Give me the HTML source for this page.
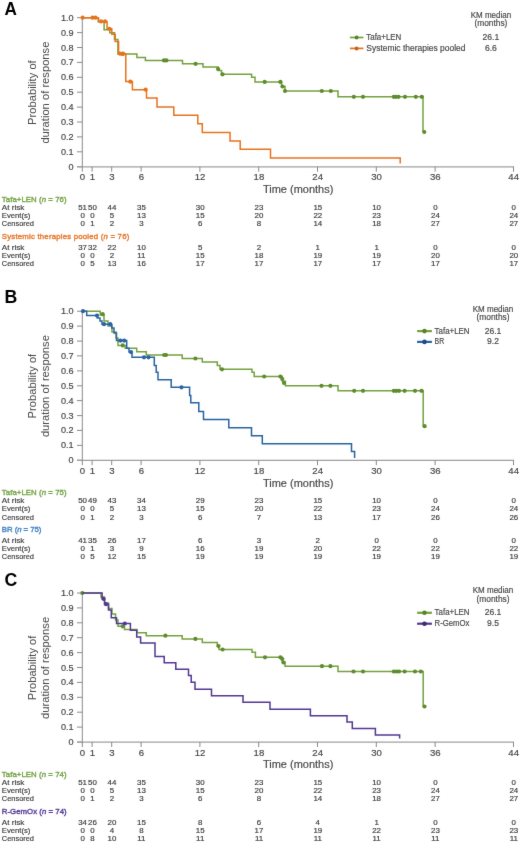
<!DOCTYPE html>
<html><head><meta charset="utf-8"><title>Duration of response</title>
<style>
html,body{margin:0;padding:0;background:#fff;}
body{width:520px;height:844px;overflow:hidden;}
svg{display:block;font-family:'Liberation Sans', Arial, sans-serif;}
</style></head>
<body>
<svg width="520" height="844" viewBox="0 0 520 844">
<defs><filter id="soft" x="0" y="0" width="520" height="844" filterUnits="userSpaceOnUse"><feConvolveMatrix order="3" kernelMatrix="0.0052 0.0619 0.0052 0.0619 0.7314 0.0619 0.0052 0.0619 0.0052" divisor="1" edgeMode="none" preserveAlpha="false"/></filter></defs>
<rect width="520" height="844" fill="#fff"/>
<g filter="url(#soft)">
<text x="4.5" y="14.9" font-size="17.7" font-weight="bold" fill="#000" textLength="12.4" lengthAdjust="spacingAndGlyphs">A</text>
<text transform="translate(35.9 92.6) rotate(-90)" text-anchor="middle" font-size="11.2" fill="#484848">Probability of</text>
<text transform="translate(48.5 92.6) rotate(-90)" text-anchor="middle" font-size="11.2" fill="#484848">duration of response</text>
<text x="73.6" y="20.7" font-size="9.10" text-anchor="end" fill="#484848" stroke="#484848" stroke-width="0.18">1.0</text>
<line x1="77" y1="17.7" x2="82.3" y2="17.7" stroke="#8a8a8a" stroke-width="1"/>
<text x="73.6" y="35.6" font-size="9.10" text-anchor="end" fill="#484848" stroke="#484848" stroke-width="0.18">0.9</text>
<line x1="77" y1="32.6" x2="82.3" y2="32.6" stroke="#8a8a8a" stroke-width="1"/>
<text x="73.6" y="50.5" font-size="9.10" text-anchor="end" fill="#484848" stroke="#484848" stroke-width="0.18">0.8</text>
<line x1="77" y1="47.5" x2="82.3" y2="47.5" stroke="#8a8a8a" stroke-width="1"/>
<text x="73.6" y="65.4" font-size="9.10" text-anchor="end" fill="#484848" stroke="#484848" stroke-width="0.18">0.7</text>
<line x1="77" y1="62.4" x2="82.3" y2="62.4" stroke="#8a8a8a" stroke-width="1"/>
<text x="73.6" y="80.3" font-size="9.10" text-anchor="end" fill="#484848" stroke="#484848" stroke-width="0.18">0.6</text>
<line x1="77" y1="77.3" x2="82.3" y2="77.3" stroke="#8a8a8a" stroke-width="1"/>
<text x="73.6" y="95.2" font-size="9.10" text-anchor="end" fill="#484848" stroke="#484848" stroke-width="0.18">0.5</text>
<line x1="77" y1="92.2" x2="82.3" y2="92.2" stroke="#8a8a8a" stroke-width="1"/>
<text x="73.6" y="110.1" font-size="9.10" text-anchor="end" fill="#484848" stroke="#484848" stroke-width="0.18">0.4</text>
<line x1="77" y1="107.1" x2="82.3" y2="107.1" stroke="#8a8a8a" stroke-width="1"/>
<text x="73.6" y="125.0" font-size="9.10" text-anchor="end" fill="#484848" stroke="#484848" stroke-width="0.18">0.3</text>
<line x1="77" y1="122.0" x2="82.3" y2="122.0" stroke="#8a8a8a" stroke-width="1"/>
<text x="73.6" y="139.9" font-size="9.10" text-anchor="end" fill="#484848" stroke="#484848" stroke-width="0.18">0.2</text>
<line x1="77" y1="136.9" x2="82.3" y2="136.9" stroke="#8a8a8a" stroke-width="1"/>
<text x="73.6" y="154.8" font-size="9.10" text-anchor="end" fill="#484848" stroke="#484848" stroke-width="0.18">0.1</text>
<line x1="77" y1="151.8" x2="82.3" y2="151.8" stroke="#8a8a8a" stroke-width="1"/>
<text x="73.6" y="169.7" font-size="9.10" text-anchor="end" fill="#484848" stroke="#484848" stroke-width="0.18">0</text>
<line x1="77" y1="166.7" x2="82.3" y2="166.7" stroke="#8a8a8a" stroke-width="1"/>
<line x1="82.3" y1="17.7" x2="82.3" y2="166.7" stroke="#8a8a8a" stroke-width="1"/>
<line x1="77" y1="166.9" x2="514" y2="166.9" stroke="#a0a0a0" stroke-width="1.3"/>
<line x1="82.3" y1="166.7" x2="82.3" y2="171.7" stroke="#8a8a8a" stroke-width="1"/>
<text x="82.5" y="180.4" font-size="9.60" text-anchor="middle" fill="#484848" stroke="#484848" stroke-width="0.18">0</text>
<line x1="92.1" y1="166.7" x2="92.1" y2="171.7" stroke="#8a8a8a" stroke-width="1"/>
<text x="92.3" y="180.4" font-size="9.60" text-anchor="middle" fill="#484848" stroke="#484848" stroke-width="0.18">1</text>
<line x1="111.7" y1="166.7" x2="111.7" y2="171.7" stroke="#8a8a8a" stroke-width="1"/>
<text x="111.9" y="180.4" font-size="9.60" text-anchor="middle" fill="#484848" stroke="#484848" stroke-width="0.18">3</text>
<line x1="141.1" y1="166.7" x2="141.1" y2="171.7" stroke="#8a8a8a" stroke-width="1"/>
<text x="141.3" y="180.4" font-size="9.60" text-anchor="middle" fill="#484848" stroke="#484848" stroke-width="0.18">6</text>
<line x1="199.9" y1="166.7" x2="199.9" y2="171.7" stroke="#8a8a8a" stroke-width="1"/>
<text x="200.1" y="180.4" font-size="9.60" text-anchor="middle" fill="#484848" stroke="#484848" stroke-width="0.18">12</text>
<line x1="258.7" y1="166.7" x2="258.7" y2="171.7" stroke="#8a8a8a" stroke-width="1"/>
<text x="258.9" y="180.4" font-size="9.60" text-anchor="middle" fill="#484848" stroke="#484848" stroke-width="0.18">18</text>
<line x1="317.5" y1="166.7" x2="317.5" y2="171.7" stroke="#8a8a8a" stroke-width="1"/>
<text x="317.7" y="180.4" font-size="9.60" text-anchor="middle" fill="#484848" stroke="#484848" stroke-width="0.18">24</text>
<line x1="376.3" y1="166.7" x2="376.3" y2="171.7" stroke="#8a8a8a" stroke-width="1"/>
<text x="376.5" y="180.4" font-size="9.60" text-anchor="middle" fill="#484848" stroke="#484848" stroke-width="0.18">30</text>
<line x1="435.1" y1="166.7" x2="435.1" y2="171.7" stroke="#8a8a8a" stroke-width="1"/>
<text x="435.3" y="180.4" font-size="9.60" text-anchor="middle" fill="#484848" stroke="#484848" stroke-width="0.18">36</text>
<line x1="513.5" y1="166.7" x2="513.5" y2="171.7" stroke="#8a8a8a" stroke-width="1"/>
<text x="513.7" y="180.4" font-size="9.60" text-anchor="middle" fill="#484848" stroke="#484848" stroke-width="0.18">44</text>
<text x="263.0" y="193.1" font-size="11.00" fill="#484848" stroke="#484848" stroke-width="0.18" textLength="70.3" lengthAdjust="spacingAndGlyphs">Time (months)</text>
<text x="490.9" y="18.0" font-size="8.60" text-anchor="middle" fill="#484848" stroke="#484848" stroke-width="0.18" textLength="40.5" lengthAdjust="spacingAndGlyphs">KM median</text>
<text x="490.9" y="26.3" font-size="8.60" text-anchor="middle" fill="#484848" stroke="#484848" stroke-width="0.18" textLength="33.0" lengthAdjust="spacingAndGlyphs">(months)</text>
<line x1="349.9" y1="37.5" x2="363.4" y2="37.5" stroke="#75a13f" stroke-width="1.7"/>
<circle cx="356.6" cy="37.5" r="2.0" fill="#5a842c"/>
<text x="366.3" y="40.1" font-size="8.60" fill="#484848" stroke="#484848" stroke-width="0.18" textLength="35.0" lengthAdjust="spacingAndGlyphs">Tafa+LEN</text>
<text x="490.9" y="40.1" font-size="8.60" text-anchor="middle" fill="#484848" stroke="#484848" stroke-width="0.18">26.1</text>
<line x1="349.9" y1="48.4" x2="363.4" y2="48.4" stroke="#e6731f" stroke-width="1.7"/>
<circle cx="356.6" cy="48.4" r="2.0" fill="#c8621e"/>
<text x="366.3" y="51.0" font-size="8.60" fill="#484848" stroke="#484848" stroke-width="0.18" textLength="99.2" lengthAdjust="spacingAndGlyphs">Systemic therapies pooled</text>
<text x="490.9" y="51.0" font-size="8.60" text-anchor="middle" fill="#484848" stroke="#484848" stroke-width="0.18">6.6</text>
<path d="M82.3 17.7 H98.4 V21.7 H104.1 V29.8 H109.8 V32.8 H114.5 V39.6 H117.9 V53.9 H136.9 V57.5 H145.4 V60.4 H182.5 V63.8 H203.0 V67.1 H218.1 V70.4 H221.5 V74.3 H251.6 V77.3 H255.0 V81.9 H281.6 V86.5 H285.0 V91.0 H338.0 V96.8 H423.0 V132.0" fill="none" stroke="#75a13f" stroke-width="1.5" stroke-linejoin="miter"/>
<circle cx="122.6" cy="53.9" r="2.1" fill="#5e8c2e"/>
<circle cx="164.0" cy="60.4" r="2.1" fill="#5e8c2e"/>
<circle cx="166.4" cy="60.4" r="2.1" fill="#5e8c2e"/>
<circle cx="195.6" cy="63.8" r="2.1" fill="#5e8c2e"/>
<circle cx="218.1" cy="69.0" r="2.1" fill="#5e8c2e"/>
<circle cx="222.5" cy="74.3" r="2.1" fill="#5e8c2e"/>
<circle cx="264.7" cy="81.9" r="2.1" fill="#5e8c2e"/>
<circle cx="280.4" cy="81.9" r="2.1" fill="#5e8c2e"/>
<circle cx="282.5" cy="86.5" r="2.1" fill="#5e8c2e"/>
<circle cx="285.0" cy="91.0" r="2.1" fill="#5e8c2e"/>
<circle cx="321.8" cy="91.0" r="2.1" fill="#5e8c2e"/>
<circle cx="330.8" cy="91.0" r="2.1" fill="#5e8c2e"/>
<circle cx="353.8" cy="96.8" r="2.1" fill="#5e8c2e"/>
<circle cx="363.0" cy="96.8" r="2.1" fill="#5e8c2e"/>
<circle cx="393.8" cy="96.8" r="2.1" fill="#5e8c2e"/>
<circle cx="396.0" cy="96.8" r="2.1" fill="#5e8c2e"/>
<circle cx="398.5" cy="96.8" r="2.1" fill="#5e8c2e"/>
<circle cx="405.0" cy="96.8" r="2.1" fill="#5e8c2e"/>
<circle cx="415.8" cy="96.8" r="2.1" fill="#5e8c2e"/>
<circle cx="421.8" cy="96.8" r="2.1" fill="#5e8c2e"/>
<circle cx="424.3" cy="132.0" r="2.1" fill="#5e8c2e"/>
<path d="M82.3 17.7 H98.4 V21.4 H107.1 V28.8 H111.8 V34.2 H115.2 V41.6 H118.6 V53.7 H125.8 V81.6 H132.4 V89.7 H146.5 V97.9 H157.0 V107.0 H173.8 V115.2 H197.8 V123.8 H202.3 V132.5 H230.0 V141.1 H240.2 V149.2 H270.5 V157.9 H400.2 V163.5" fill="none" stroke="#e6731f" stroke-width="1.5" stroke-linejoin="miter"/>
<circle cx="82.6" cy="17.7" r="2.1" fill="#e6731f"/>
<circle cx="92.5" cy="17.7" r="2.1" fill="#e6731f"/>
<circle cx="95.5" cy="17.7" r="2.1" fill="#e6731f"/>
<circle cx="101.0" cy="21.4" r="2.1" fill="#e6731f"/>
<circle cx="105.0" cy="21.4" r="2.1" fill="#e6731f"/>
<circle cx="109.5" cy="28.8" r="2.1" fill="#e6731f"/>
<circle cx="120.0" cy="53.7" r="2.1" fill="#e6731f"/>
<circle cx="123.0" cy="53.7" r="2.1" fill="#e6731f"/>
<circle cx="130.3" cy="81.7" r="2.1" fill="#e6731f"/>
<circle cx="145.6" cy="89.6" r="2.1" fill="#e6731f"/>
<text x="1.8" y="201.7" font-size="7.80" fill="#7aa64c" textLength="64.8" lengthAdjust="spacing" stroke="#7aa64c" stroke-width="0.4">Tafa+LEN (<tspan font-style="italic">n</tspan> = 76)</text>
<text x="1.8" y="209.6" font-size="8.00" fill="#3c3c3c" stroke="#3c3c3c" stroke-width="0.18" textLength="22.6" lengthAdjust="spacingAndGlyphs">At risk</text>
<text x="82.6" y="209.6" font-size="7.90" text-anchor="middle" fill="#3c3c3c" stroke="#3c3c3c" stroke-width="0.18">51</text>
<text x="92.4" y="209.6" font-size="7.90" text-anchor="middle" fill="#3c3c3c" stroke="#3c3c3c" stroke-width="0.18">50</text>
<text x="112.0" y="209.6" font-size="7.90" text-anchor="middle" fill="#3c3c3c" stroke="#3c3c3c" stroke-width="0.18">44</text>
<text x="141.4" y="209.6" font-size="7.90" text-anchor="middle" fill="#3c3c3c" stroke="#3c3c3c" stroke-width="0.18">35</text>
<text x="200.2" y="209.6" font-size="7.90" text-anchor="middle" fill="#3c3c3c" stroke="#3c3c3c" stroke-width="0.18">30</text>
<text x="259.0" y="209.6" font-size="7.90" text-anchor="middle" fill="#3c3c3c" stroke="#3c3c3c" stroke-width="0.18">23</text>
<text x="317.8" y="209.6" font-size="7.90" text-anchor="middle" fill="#3c3c3c" stroke="#3c3c3c" stroke-width="0.18">15</text>
<text x="376.6" y="209.6" font-size="7.90" text-anchor="middle" fill="#3c3c3c" stroke="#3c3c3c" stroke-width="0.18">10</text>
<text x="435.4" y="209.6" font-size="7.90" text-anchor="middle" fill="#3c3c3c" stroke="#3c3c3c" stroke-width="0.18">0</text>
<text x="513.8" y="209.6" font-size="7.90" text-anchor="middle" fill="#3c3c3c" stroke="#3c3c3c" stroke-width="0.18">0</text>
<text x="1.8" y="217.8" font-size="8.00" fill="#3c3c3c" stroke="#3c3c3c" stroke-width="0.18" textLength="28.6" lengthAdjust="spacingAndGlyphs">Event(s)</text>
<text x="82.6" y="217.8" font-size="7.90" text-anchor="middle" fill="#3c3c3c" stroke="#3c3c3c" stroke-width="0.18">0</text>
<text x="92.4" y="217.8" font-size="7.90" text-anchor="middle" fill="#3c3c3c" stroke="#3c3c3c" stroke-width="0.18">0</text>
<text x="112.0" y="217.8" font-size="7.90" text-anchor="middle" fill="#3c3c3c" stroke="#3c3c3c" stroke-width="0.18">5</text>
<text x="141.4" y="217.8" font-size="7.90" text-anchor="middle" fill="#3c3c3c" stroke="#3c3c3c" stroke-width="0.18">13</text>
<text x="200.2" y="217.8" font-size="7.90" text-anchor="middle" fill="#3c3c3c" stroke="#3c3c3c" stroke-width="0.18">15</text>
<text x="259.0" y="217.8" font-size="7.90" text-anchor="middle" fill="#3c3c3c" stroke="#3c3c3c" stroke-width="0.18">20</text>
<text x="317.8" y="217.8" font-size="7.90" text-anchor="middle" fill="#3c3c3c" stroke="#3c3c3c" stroke-width="0.18">22</text>
<text x="376.6" y="217.8" font-size="7.90" text-anchor="middle" fill="#3c3c3c" stroke="#3c3c3c" stroke-width="0.18">23</text>
<text x="435.4" y="217.8" font-size="7.90" text-anchor="middle" fill="#3c3c3c" stroke="#3c3c3c" stroke-width="0.18">24</text>
<text x="513.8" y="217.8" font-size="7.90" text-anchor="middle" fill="#3c3c3c" stroke="#3c3c3c" stroke-width="0.18">24</text>
<text x="1.8" y="226.0" font-size="8.00" fill="#3c3c3c" stroke="#3c3c3c" stroke-width="0.18" textLength="32.2" lengthAdjust="spacingAndGlyphs">Censored</text>
<text x="82.6" y="226.0" font-size="7.90" text-anchor="middle" fill="#3c3c3c" stroke="#3c3c3c" stroke-width="0.18">0</text>
<text x="92.4" y="226.0" font-size="7.90" text-anchor="middle" fill="#3c3c3c" stroke="#3c3c3c" stroke-width="0.18">1</text>
<text x="112.0" y="226.0" font-size="7.90" text-anchor="middle" fill="#3c3c3c" stroke="#3c3c3c" stroke-width="0.18">2</text>
<text x="141.4" y="226.0" font-size="7.90" text-anchor="middle" fill="#3c3c3c" stroke="#3c3c3c" stroke-width="0.18">3</text>
<text x="200.2" y="226.0" font-size="7.90" text-anchor="middle" fill="#3c3c3c" stroke="#3c3c3c" stroke-width="0.18">6</text>
<text x="259.0" y="226.0" font-size="7.90" text-anchor="middle" fill="#3c3c3c" stroke="#3c3c3c" stroke-width="0.18">8</text>
<text x="317.8" y="226.0" font-size="7.90" text-anchor="middle" fill="#3c3c3c" stroke="#3c3c3c" stroke-width="0.18">14</text>
<text x="376.6" y="226.0" font-size="7.90" text-anchor="middle" fill="#3c3c3c" stroke="#3c3c3c" stroke-width="0.18">18</text>
<text x="435.4" y="226.0" font-size="7.90" text-anchor="middle" fill="#3c3c3c" stroke="#3c3c3c" stroke-width="0.18">27</text>
<text x="513.8" y="226.0" font-size="7.90" text-anchor="middle" fill="#3c3c3c" stroke="#3c3c3c" stroke-width="0.18">27</text>
<text x="1.8" y="238.6" font-size="7.80" fill="#e67c34" textLength="127.5" lengthAdjust="spacing" stroke="#e67c34" stroke-width="0.4">Systemic therapies pooled (<tspan font-style="italic">n</tspan> = 76)</text>
<text x="1.8" y="249.5" font-size="8.00" fill="#3c3c3c" stroke="#3c3c3c" stroke-width="0.18" textLength="22.6" lengthAdjust="spacingAndGlyphs">At risk</text>
<text x="82.6" y="249.5" font-size="7.90" text-anchor="middle" fill="#3c3c3c" stroke="#3c3c3c" stroke-width="0.18">37</text>
<text x="92.4" y="249.5" font-size="7.90" text-anchor="middle" fill="#3c3c3c" stroke="#3c3c3c" stroke-width="0.18">32</text>
<text x="112.0" y="249.5" font-size="7.90" text-anchor="middle" fill="#3c3c3c" stroke="#3c3c3c" stroke-width="0.18">22</text>
<text x="141.4" y="249.5" font-size="7.90" text-anchor="middle" fill="#3c3c3c" stroke="#3c3c3c" stroke-width="0.18">10</text>
<text x="200.2" y="249.5" font-size="7.90" text-anchor="middle" fill="#3c3c3c" stroke="#3c3c3c" stroke-width="0.18">5</text>
<text x="259.0" y="249.5" font-size="7.90" text-anchor="middle" fill="#3c3c3c" stroke="#3c3c3c" stroke-width="0.18">2</text>
<text x="317.8" y="249.5" font-size="7.90" text-anchor="middle" fill="#3c3c3c" stroke="#3c3c3c" stroke-width="0.18">1</text>
<text x="376.6" y="249.5" font-size="7.90" text-anchor="middle" fill="#3c3c3c" stroke="#3c3c3c" stroke-width="0.18">1</text>
<text x="435.4" y="249.5" font-size="7.90" text-anchor="middle" fill="#3c3c3c" stroke="#3c3c3c" stroke-width="0.18">0</text>
<text x="513.8" y="249.5" font-size="7.90" text-anchor="middle" fill="#3c3c3c" stroke="#3c3c3c" stroke-width="0.18">0</text>
<text x="1.8" y="257.6" font-size="8.00" fill="#3c3c3c" stroke="#3c3c3c" stroke-width="0.18" textLength="28.6" lengthAdjust="spacingAndGlyphs">Event(s)</text>
<text x="82.6" y="257.6" font-size="7.90" text-anchor="middle" fill="#3c3c3c" stroke="#3c3c3c" stroke-width="0.18">0</text>
<text x="92.4" y="257.6" font-size="7.90" text-anchor="middle" fill="#3c3c3c" stroke="#3c3c3c" stroke-width="0.18">0</text>
<text x="112.0" y="257.6" font-size="7.90" text-anchor="middle" fill="#3c3c3c" stroke="#3c3c3c" stroke-width="0.18">2</text>
<text x="141.4" y="257.6" font-size="7.90" text-anchor="middle" fill="#3c3c3c" stroke="#3c3c3c" stroke-width="0.18">11</text>
<text x="200.2" y="257.6" font-size="7.90" text-anchor="middle" fill="#3c3c3c" stroke="#3c3c3c" stroke-width="0.18">15</text>
<text x="259.0" y="257.6" font-size="7.90" text-anchor="middle" fill="#3c3c3c" stroke="#3c3c3c" stroke-width="0.18">18</text>
<text x="317.8" y="257.6" font-size="7.90" text-anchor="middle" fill="#3c3c3c" stroke="#3c3c3c" stroke-width="0.18">19</text>
<text x="376.6" y="257.6" font-size="7.90" text-anchor="middle" fill="#3c3c3c" stroke="#3c3c3c" stroke-width="0.18">19</text>
<text x="435.4" y="257.6" font-size="7.90" text-anchor="middle" fill="#3c3c3c" stroke="#3c3c3c" stroke-width="0.18">20</text>
<text x="513.8" y="257.6" font-size="7.90" text-anchor="middle" fill="#3c3c3c" stroke="#3c3c3c" stroke-width="0.18">20</text>
<text x="1.8" y="265.7" font-size="8.00" fill="#3c3c3c" stroke="#3c3c3c" stroke-width="0.18" textLength="32.2" lengthAdjust="spacingAndGlyphs">Censored</text>
<text x="82.6" y="265.7" font-size="7.90" text-anchor="middle" fill="#3c3c3c" stroke="#3c3c3c" stroke-width="0.18">0</text>
<text x="92.4" y="265.7" font-size="7.90" text-anchor="middle" fill="#3c3c3c" stroke="#3c3c3c" stroke-width="0.18">5</text>
<text x="112.0" y="265.7" font-size="7.90" text-anchor="middle" fill="#3c3c3c" stroke="#3c3c3c" stroke-width="0.18">13</text>
<text x="141.4" y="265.7" font-size="7.90" text-anchor="middle" fill="#3c3c3c" stroke="#3c3c3c" stroke-width="0.18">16</text>
<text x="200.2" y="265.7" font-size="7.90" text-anchor="middle" fill="#3c3c3c" stroke="#3c3c3c" stroke-width="0.18">17</text>
<text x="259.0" y="265.7" font-size="7.90" text-anchor="middle" fill="#3c3c3c" stroke="#3c3c3c" stroke-width="0.18">17</text>
<text x="317.8" y="265.7" font-size="7.90" text-anchor="middle" fill="#3c3c3c" stroke="#3c3c3c" stroke-width="0.18">17</text>
<text x="376.6" y="265.7" font-size="7.90" text-anchor="middle" fill="#3c3c3c" stroke="#3c3c3c" stroke-width="0.18">17</text>
<text x="435.4" y="265.7" font-size="7.90" text-anchor="middle" fill="#3c3c3c" stroke="#3c3c3c" stroke-width="0.18">17</text>
<text x="513.8" y="265.7" font-size="7.90" text-anchor="middle" fill="#3c3c3c" stroke="#3c3c3c" stroke-width="0.18">17</text>
<text x="4.5" y="303.0" font-size="17.7" font-weight="bold" fill="#000">B</text>
<text transform="translate(35.9 386.1) rotate(-90)" text-anchor="middle" font-size="11.2" fill="#484848">Probability of</text>
<text transform="translate(48.5 386.1) rotate(-90)" text-anchor="middle" font-size="11.2" fill="#484848">duration of response</text>
<text x="73.6" y="314.2" font-size="9.10" text-anchor="end" fill="#484848" stroke="#484848" stroke-width="0.18">1.0</text>
<line x1="77" y1="311.2" x2="82.3" y2="311.2" stroke="#8a8a8a" stroke-width="1"/>
<text x="73.6" y="329.1" font-size="9.10" text-anchor="end" fill="#484848" stroke="#484848" stroke-width="0.18">0.9</text>
<line x1="77" y1="326.1" x2="82.3" y2="326.1" stroke="#8a8a8a" stroke-width="1"/>
<text x="73.6" y="344.1" font-size="9.10" text-anchor="end" fill="#484848" stroke="#484848" stroke-width="0.18">0.8</text>
<line x1="77" y1="341.1" x2="82.3" y2="341.1" stroke="#8a8a8a" stroke-width="1"/>
<text x="73.6" y="358.9" font-size="9.10" text-anchor="end" fill="#484848" stroke="#484848" stroke-width="0.18">0.7</text>
<line x1="77" y1="355.9" x2="82.3" y2="355.9" stroke="#8a8a8a" stroke-width="1"/>
<text x="73.6" y="373.9" font-size="9.10" text-anchor="end" fill="#484848" stroke="#484848" stroke-width="0.18">0.6</text>
<line x1="77" y1="370.9" x2="82.3" y2="370.9" stroke="#8a8a8a" stroke-width="1"/>
<text x="73.6" y="388.8" font-size="9.10" text-anchor="end" fill="#484848" stroke="#484848" stroke-width="0.18">0.5</text>
<line x1="77" y1="385.8" x2="82.3" y2="385.8" stroke="#8a8a8a" stroke-width="1"/>
<text x="73.6" y="403.6" font-size="9.10" text-anchor="end" fill="#484848" stroke="#484848" stroke-width="0.18">0.4</text>
<line x1="77" y1="400.6" x2="82.3" y2="400.6" stroke="#8a8a8a" stroke-width="1"/>
<text x="73.6" y="418.6" font-size="9.10" text-anchor="end" fill="#484848" stroke="#484848" stroke-width="0.18">0.3</text>
<line x1="77" y1="415.6" x2="82.3" y2="415.6" stroke="#8a8a8a" stroke-width="1"/>
<text x="73.6" y="433.4" font-size="9.10" text-anchor="end" fill="#484848" stroke="#484848" stroke-width="0.18">0.2</text>
<line x1="77" y1="430.4" x2="82.3" y2="430.4" stroke="#8a8a8a" stroke-width="1"/>
<text x="73.6" y="448.4" font-size="9.10" text-anchor="end" fill="#484848" stroke="#484848" stroke-width="0.18">0.1</text>
<line x1="77" y1="445.4" x2="82.3" y2="445.4" stroke="#8a8a8a" stroke-width="1"/>
<text x="73.6" y="463.2" font-size="9.10" text-anchor="end" fill="#484848" stroke="#484848" stroke-width="0.18">0</text>
<line x1="77" y1="460.2" x2="82.3" y2="460.2" stroke="#8a8a8a" stroke-width="1"/>
<line x1="82.3" y1="311.2" x2="82.3" y2="460.2" stroke="#8a8a8a" stroke-width="1"/>
<line x1="77" y1="460.4" x2="514" y2="460.4" stroke="#a0a0a0" stroke-width="1.3"/>
<line x1="82.3" y1="460.2" x2="82.3" y2="465.2" stroke="#8a8a8a" stroke-width="1"/>
<text x="82.5" y="473.9" font-size="9.60" text-anchor="middle" fill="#484848" stroke="#484848" stroke-width="0.18">0</text>
<line x1="92.1" y1="460.2" x2="92.1" y2="465.2" stroke="#8a8a8a" stroke-width="1"/>
<text x="92.3" y="473.9" font-size="9.60" text-anchor="middle" fill="#484848" stroke="#484848" stroke-width="0.18">1</text>
<line x1="111.7" y1="460.2" x2="111.7" y2="465.2" stroke="#8a8a8a" stroke-width="1"/>
<text x="111.9" y="473.9" font-size="9.60" text-anchor="middle" fill="#484848" stroke="#484848" stroke-width="0.18">3</text>
<line x1="141.1" y1="460.2" x2="141.1" y2="465.2" stroke="#8a8a8a" stroke-width="1"/>
<text x="141.3" y="473.9" font-size="9.60" text-anchor="middle" fill="#484848" stroke="#484848" stroke-width="0.18">6</text>
<line x1="199.9" y1="460.2" x2="199.9" y2="465.2" stroke="#8a8a8a" stroke-width="1"/>
<text x="200.1" y="473.9" font-size="9.60" text-anchor="middle" fill="#484848" stroke="#484848" stroke-width="0.18">12</text>
<line x1="258.7" y1="460.2" x2="258.7" y2="465.2" stroke="#8a8a8a" stroke-width="1"/>
<text x="258.9" y="473.9" font-size="9.60" text-anchor="middle" fill="#484848" stroke="#484848" stroke-width="0.18">18</text>
<line x1="317.5" y1="460.2" x2="317.5" y2="465.2" stroke="#8a8a8a" stroke-width="1"/>
<text x="317.7" y="473.9" font-size="9.60" text-anchor="middle" fill="#484848" stroke="#484848" stroke-width="0.18">24</text>
<line x1="376.3" y1="460.2" x2="376.3" y2="465.2" stroke="#8a8a8a" stroke-width="1"/>
<text x="376.5" y="473.9" font-size="9.60" text-anchor="middle" fill="#484848" stroke="#484848" stroke-width="0.18">30</text>
<line x1="435.1" y1="460.2" x2="435.1" y2="465.2" stroke="#8a8a8a" stroke-width="1"/>
<text x="435.3" y="473.9" font-size="9.60" text-anchor="middle" fill="#484848" stroke="#484848" stroke-width="0.18">36</text>
<line x1="513.5" y1="460.2" x2="513.5" y2="465.2" stroke="#8a8a8a" stroke-width="1"/>
<text x="513.7" y="473.9" font-size="9.60" text-anchor="middle" fill="#484848" stroke="#484848" stroke-width="0.18">44</text>
<text x="263.0" y="486.6" font-size="11.00" fill="#484848" stroke="#484848" stroke-width="0.18" textLength="70.3" lengthAdjust="spacingAndGlyphs">Time (months)</text>
<text x="493.0" y="311.6" font-size="8.60" text-anchor="middle" fill="#484848" stroke="#484848" stroke-width="0.18" textLength="40.5" lengthAdjust="spacingAndGlyphs">KM median</text>
<text x="493.0" y="319.9" font-size="8.60" text-anchor="middle" fill="#484848" stroke="#484848" stroke-width="0.18" textLength="33.0" lengthAdjust="spacingAndGlyphs">(months)</text>
<line x1="417.1" y1="331.1" x2="431.9" y2="331.1" stroke="#75a13f" stroke-width="2.2"/>
<circle cx="424.5" cy="331.1" r="2.3" fill="#5a842c"/>
<text x="434.6" y="333.6" font-size="8.60" fill="#484848" stroke="#484848" stroke-width="0.18" textLength="35.0" lengthAdjust="spacingAndGlyphs">Tafa+LEN</text>
<text x="493.0" y="333.6" font-size="8.60" text-anchor="middle" fill="#484848" stroke="#484848" stroke-width="0.18">26.1</text>
<line x1="417.1" y1="341.9" x2="431.9" y2="341.9" stroke="#2b64a2" stroke-width="2.2"/>
<circle cx="424.5" cy="341.9" r="2.3" fill="#1f4c80"/>
<text x="434.6" y="344.4" font-size="8.60" fill="#484848" stroke="#484848" stroke-width="0.18" textLength="9.6" lengthAdjust="spacingAndGlyphs">BR</text>
<text x="493.0" y="344.4" font-size="8.60" text-anchor="middle" fill="#484848" stroke="#484848" stroke-width="0.18">9.2</text>
<path d="M82.3 311.2 H100.2 V315.0 H104.0 V321.0 H108.0 V326.0 H112.0 V332.0 H116.0 V338.0 H118.0 V345.4 H125.2 V348.3 H136.7 V351.7 H146.3 V355.0 H182.2 V358.5 H202.3 V361.9 H217.3 V365.4 H220.0 V369.3 H252.0 V372.3 H254.2 V376.5 H282.3 V381.2 H285.4 V385.8 H338.0 V390.8 H423.2 V426.2" fill="none" stroke="#75a13f" stroke-width="1.5" stroke-linejoin="miter"/>
<circle cx="102.7" cy="314.2" r="2.1" fill="#5e8c2e"/>
<circle cx="122.7" cy="345.4" r="2.1" fill="#5e8c2e"/>
<circle cx="164.2" cy="355.0" r="2.1" fill="#5e8c2e"/>
<circle cx="166.0" cy="355.0" r="2.1" fill="#5e8c2e"/>
<circle cx="195.4" cy="358.5" r="2.1" fill="#5e8c2e"/>
<circle cx="222.0" cy="369.3" r="2.1" fill="#5e8c2e"/>
<circle cx="264.2" cy="376.5" r="2.1" fill="#5e8c2e"/>
<circle cx="280.4" cy="376.5" r="2.1" fill="#5e8c2e"/>
<circle cx="282.3" cy="379.0" r="2.1" fill="#5e8c2e"/>
<circle cx="284.0" cy="383.0" r="2.1" fill="#5e8c2e"/>
<circle cx="321.5" cy="385.8" r="2.1" fill="#5e8c2e"/>
<circle cx="330.4" cy="385.8" r="2.1" fill="#5e8c2e"/>
<circle cx="354.2" cy="390.8" r="2.1" fill="#5e8c2e"/>
<circle cx="363.0" cy="390.8" r="2.1" fill="#5e8c2e"/>
<circle cx="393.8" cy="390.8" r="2.1" fill="#5e8c2e"/>
<circle cx="396.2" cy="390.8" r="2.1" fill="#5e8c2e"/>
<circle cx="399.0" cy="390.8" r="2.1" fill="#5e8c2e"/>
<circle cx="404.6" cy="390.8" r="2.1" fill="#5e8c2e"/>
<circle cx="415.0" cy="390.8" r="2.1" fill="#5e8c2e"/>
<circle cx="421.5" cy="390.8" r="2.1" fill="#5e8c2e"/>
<circle cx="424.6" cy="426.2" r="2.1" fill="#5e8c2e"/>
<path d="M82.3 311.2 H86.7 V315.6 H97.3 V318.0 H100.0 V321.0 H102.0 V324.2 H111.7 V328.0 H114.0 V333.0 H116.5 V340.6 H126.7 V348.3 H129.0 V352.1 H132.0 V357.3 H154.3 V365.4 H156.2 V372.3 H158.0 V379.7 H171.2 V387.3 H189.6 V395.4 H190.8 V402.8 H198.8 V411.5 H203.5 V419.6 H228.8 V427.7 H251.5 V435.8 H262.3 V443.8 H351.5 V451.5 H354.6 V458.0" fill="none" stroke="#2b64a2" stroke-width="1.5" stroke-linejoin="miter"/>
<circle cx="83.0" cy="311.2" r="2.1" fill="#2b64a2"/>
<circle cx="97.0" cy="315.6" r="2.1" fill="#2b64a2"/>
<circle cx="104.0" cy="324.2" r="2.1" fill="#2b64a2"/>
<circle cx="110.2" cy="324.2" r="2.1" fill="#2b64a2"/>
<circle cx="120.4" cy="340.6" r="2.1" fill="#2b64a2"/>
<circle cx="124.2" cy="340.6" r="2.1" fill="#2b64a2"/>
<circle cx="131.0" cy="352.1" r="2.1" fill="#2b64a2"/>
<circle cx="144.0" cy="357.3" r="2.1" fill="#2b64a2"/>
<circle cx="148.5" cy="357.3" r="2.1" fill="#2b64a2"/>
<circle cx="181.5" cy="387.3" r="2.1" fill="#2b64a2"/>
<text x="1.8" y="495.2" font-size="7.80" fill="#7aa64c" textLength="64.8" lengthAdjust="spacing" stroke="#7aa64c" stroke-width="0.4">Tafa+LEN (<tspan font-style="italic">n</tspan> = 75)</text>
<text x="1.8" y="503.1" font-size="8.00" fill="#3c3c3c" stroke="#3c3c3c" stroke-width="0.18" textLength="22.6" lengthAdjust="spacingAndGlyphs">At risk</text>
<text x="82.6" y="503.1" font-size="7.90" text-anchor="middle" fill="#3c3c3c" stroke="#3c3c3c" stroke-width="0.18">50</text>
<text x="92.4" y="503.1" font-size="7.90" text-anchor="middle" fill="#3c3c3c" stroke="#3c3c3c" stroke-width="0.18">49</text>
<text x="112.0" y="503.1" font-size="7.90" text-anchor="middle" fill="#3c3c3c" stroke="#3c3c3c" stroke-width="0.18">43</text>
<text x="141.4" y="503.1" font-size="7.90" text-anchor="middle" fill="#3c3c3c" stroke="#3c3c3c" stroke-width="0.18">34</text>
<text x="200.2" y="503.1" font-size="7.90" text-anchor="middle" fill="#3c3c3c" stroke="#3c3c3c" stroke-width="0.18">29</text>
<text x="259.0" y="503.1" font-size="7.90" text-anchor="middle" fill="#3c3c3c" stroke="#3c3c3c" stroke-width="0.18">23</text>
<text x="317.8" y="503.1" font-size="7.90" text-anchor="middle" fill="#3c3c3c" stroke="#3c3c3c" stroke-width="0.18">15</text>
<text x="376.6" y="503.1" font-size="7.90" text-anchor="middle" fill="#3c3c3c" stroke="#3c3c3c" stroke-width="0.18">10</text>
<text x="435.4" y="503.1" font-size="7.90" text-anchor="middle" fill="#3c3c3c" stroke="#3c3c3c" stroke-width="0.18">0</text>
<text x="513.8" y="503.1" font-size="7.90" text-anchor="middle" fill="#3c3c3c" stroke="#3c3c3c" stroke-width="0.18">0</text>
<text x="1.8" y="511.3" font-size="8.00" fill="#3c3c3c" stroke="#3c3c3c" stroke-width="0.18" textLength="28.6" lengthAdjust="spacingAndGlyphs">Event(s)</text>
<text x="82.6" y="511.3" font-size="7.90" text-anchor="middle" fill="#3c3c3c" stroke="#3c3c3c" stroke-width="0.18">0</text>
<text x="92.4" y="511.3" font-size="7.90" text-anchor="middle" fill="#3c3c3c" stroke="#3c3c3c" stroke-width="0.18">0</text>
<text x="112.0" y="511.3" font-size="7.90" text-anchor="middle" fill="#3c3c3c" stroke="#3c3c3c" stroke-width="0.18">5</text>
<text x="141.4" y="511.3" font-size="7.90" text-anchor="middle" fill="#3c3c3c" stroke="#3c3c3c" stroke-width="0.18">13</text>
<text x="200.2" y="511.3" font-size="7.90" text-anchor="middle" fill="#3c3c3c" stroke="#3c3c3c" stroke-width="0.18">15</text>
<text x="259.0" y="511.3" font-size="7.90" text-anchor="middle" fill="#3c3c3c" stroke="#3c3c3c" stroke-width="0.18">20</text>
<text x="317.8" y="511.3" font-size="7.90" text-anchor="middle" fill="#3c3c3c" stroke="#3c3c3c" stroke-width="0.18">22</text>
<text x="376.6" y="511.3" font-size="7.90" text-anchor="middle" fill="#3c3c3c" stroke="#3c3c3c" stroke-width="0.18">23</text>
<text x="435.4" y="511.3" font-size="7.90" text-anchor="middle" fill="#3c3c3c" stroke="#3c3c3c" stroke-width="0.18">24</text>
<text x="513.8" y="511.3" font-size="7.90" text-anchor="middle" fill="#3c3c3c" stroke="#3c3c3c" stroke-width="0.18">24</text>
<text x="1.8" y="519.5" font-size="8.00" fill="#3c3c3c" stroke="#3c3c3c" stroke-width="0.18" textLength="32.2" lengthAdjust="spacingAndGlyphs">Censored</text>
<text x="82.6" y="519.5" font-size="7.90" text-anchor="middle" fill="#3c3c3c" stroke="#3c3c3c" stroke-width="0.18">0</text>
<text x="92.4" y="519.5" font-size="7.90" text-anchor="middle" fill="#3c3c3c" stroke="#3c3c3c" stroke-width="0.18">1</text>
<text x="112.0" y="519.5" font-size="7.90" text-anchor="middle" fill="#3c3c3c" stroke="#3c3c3c" stroke-width="0.18">2</text>
<text x="141.4" y="519.5" font-size="7.90" text-anchor="middle" fill="#3c3c3c" stroke="#3c3c3c" stroke-width="0.18">3</text>
<text x="200.2" y="519.5" font-size="7.90" text-anchor="middle" fill="#3c3c3c" stroke="#3c3c3c" stroke-width="0.18">6</text>
<text x="259.0" y="519.5" font-size="7.90" text-anchor="middle" fill="#3c3c3c" stroke="#3c3c3c" stroke-width="0.18">7</text>
<text x="317.8" y="519.5" font-size="7.90" text-anchor="middle" fill="#3c3c3c" stroke="#3c3c3c" stroke-width="0.18">13</text>
<text x="376.6" y="519.5" font-size="7.90" text-anchor="middle" fill="#3c3c3c" stroke="#3c3c3c" stroke-width="0.18">17</text>
<text x="435.4" y="519.5" font-size="7.90" text-anchor="middle" fill="#3c3c3c" stroke="#3c3c3c" stroke-width="0.18">26</text>
<text x="513.8" y="519.5" font-size="7.90" text-anchor="middle" fill="#3c3c3c" stroke="#3c3c3c" stroke-width="0.18">26</text>
<text x="1.8" y="532.1" font-size="7.80" fill="#4a86c6" textLength="39.6" lengthAdjust="spacing" stroke="#4a86c6" stroke-width="0.4">BR (<tspan font-style="italic">n</tspan> = 75)</text>
<text x="1.8" y="543.0" font-size="8.00" fill="#3c3c3c" stroke="#3c3c3c" stroke-width="0.18" textLength="22.6" lengthAdjust="spacingAndGlyphs">At risk</text>
<text x="82.6" y="543.0" font-size="7.90" text-anchor="middle" fill="#3c3c3c" stroke="#3c3c3c" stroke-width="0.18">41</text>
<text x="92.4" y="543.0" font-size="7.90" text-anchor="middle" fill="#3c3c3c" stroke="#3c3c3c" stroke-width="0.18">35</text>
<text x="112.0" y="543.0" font-size="7.90" text-anchor="middle" fill="#3c3c3c" stroke="#3c3c3c" stroke-width="0.18">26</text>
<text x="141.4" y="543.0" font-size="7.90" text-anchor="middle" fill="#3c3c3c" stroke="#3c3c3c" stroke-width="0.18">17</text>
<text x="200.2" y="543.0" font-size="7.90" text-anchor="middle" fill="#3c3c3c" stroke="#3c3c3c" stroke-width="0.18">6</text>
<text x="259.0" y="543.0" font-size="7.90" text-anchor="middle" fill="#3c3c3c" stroke="#3c3c3c" stroke-width="0.18">3</text>
<text x="317.8" y="543.0" font-size="7.90" text-anchor="middle" fill="#3c3c3c" stroke="#3c3c3c" stroke-width="0.18">2</text>
<text x="376.6" y="543.0" font-size="7.90" text-anchor="middle" fill="#3c3c3c" stroke="#3c3c3c" stroke-width="0.18">0</text>
<text x="435.4" y="543.0" font-size="7.90" text-anchor="middle" fill="#3c3c3c" stroke="#3c3c3c" stroke-width="0.18">0</text>
<text x="513.8" y="543.0" font-size="7.90" text-anchor="middle" fill="#3c3c3c" stroke="#3c3c3c" stroke-width="0.18">0</text>
<text x="1.8" y="551.1" font-size="8.00" fill="#3c3c3c" stroke="#3c3c3c" stroke-width="0.18" textLength="28.6" lengthAdjust="spacingAndGlyphs">Event(s)</text>
<text x="82.6" y="551.1" font-size="7.90" text-anchor="middle" fill="#3c3c3c" stroke="#3c3c3c" stroke-width="0.18">0</text>
<text x="92.4" y="551.1" font-size="7.90" text-anchor="middle" fill="#3c3c3c" stroke="#3c3c3c" stroke-width="0.18">1</text>
<text x="112.0" y="551.1" font-size="7.90" text-anchor="middle" fill="#3c3c3c" stroke="#3c3c3c" stroke-width="0.18">3</text>
<text x="141.4" y="551.1" font-size="7.90" text-anchor="middle" fill="#3c3c3c" stroke="#3c3c3c" stroke-width="0.18">9</text>
<text x="200.2" y="551.1" font-size="7.90" text-anchor="middle" fill="#3c3c3c" stroke="#3c3c3c" stroke-width="0.18">16</text>
<text x="259.0" y="551.1" font-size="7.90" text-anchor="middle" fill="#3c3c3c" stroke="#3c3c3c" stroke-width="0.18">19</text>
<text x="317.8" y="551.1" font-size="7.90" text-anchor="middle" fill="#3c3c3c" stroke="#3c3c3c" stroke-width="0.18">20</text>
<text x="376.6" y="551.1" font-size="7.90" text-anchor="middle" fill="#3c3c3c" stroke="#3c3c3c" stroke-width="0.18">22</text>
<text x="435.4" y="551.1" font-size="7.90" text-anchor="middle" fill="#3c3c3c" stroke="#3c3c3c" stroke-width="0.18">22</text>
<text x="513.8" y="551.1" font-size="7.90" text-anchor="middle" fill="#3c3c3c" stroke="#3c3c3c" stroke-width="0.18">22</text>
<text x="1.8" y="559.2" font-size="8.00" fill="#3c3c3c" stroke="#3c3c3c" stroke-width="0.18" textLength="32.2" lengthAdjust="spacingAndGlyphs">Censored</text>
<text x="82.6" y="559.2" font-size="7.90" text-anchor="middle" fill="#3c3c3c" stroke="#3c3c3c" stroke-width="0.18">0</text>
<text x="92.4" y="559.2" font-size="7.90" text-anchor="middle" fill="#3c3c3c" stroke="#3c3c3c" stroke-width="0.18">5</text>
<text x="112.0" y="559.2" font-size="7.90" text-anchor="middle" fill="#3c3c3c" stroke="#3c3c3c" stroke-width="0.18">12</text>
<text x="141.4" y="559.2" font-size="7.90" text-anchor="middle" fill="#3c3c3c" stroke="#3c3c3c" stroke-width="0.18">15</text>
<text x="200.2" y="559.2" font-size="7.90" text-anchor="middle" fill="#3c3c3c" stroke="#3c3c3c" stroke-width="0.18">19</text>
<text x="259.0" y="559.2" font-size="7.90" text-anchor="middle" fill="#3c3c3c" stroke="#3c3c3c" stroke-width="0.18">19</text>
<text x="317.8" y="559.2" font-size="7.90" text-anchor="middle" fill="#3c3c3c" stroke="#3c3c3c" stroke-width="0.18">19</text>
<text x="376.6" y="559.2" font-size="7.90" text-anchor="middle" fill="#3c3c3c" stroke="#3c3c3c" stroke-width="0.18">19</text>
<text x="435.4" y="559.2" font-size="7.90" text-anchor="middle" fill="#3c3c3c" stroke="#3c3c3c" stroke-width="0.18">19</text>
<text x="513.8" y="559.2" font-size="7.90" text-anchor="middle" fill="#3c3c3c" stroke="#3c3c3c" stroke-width="0.18">19</text>
<text x="4.5" y="585.8" font-size="17.7" font-weight="bold" fill="#000">C</text>
<text transform="translate(35.9 667.9) rotate(-90)" text-anchor="middle" font-size="11.2" fill="#484848">Probability of</text>
<text transform="translate(48.5 667.9) rotate(-90)" text-anchor="middle" font-size="11.2" fill="#484848">duration of response</text>
<text x="73.6" y="596.0" font-size="9.10" text-anchor="end" fill="#484848" stroke="#484848" stroke-width="0.18">1.0</text>
<line x1="77" y1="593.0" x2="82.3" y2="593.0" stroke="#8a8a8a" stroke-width="1"/>
<text x="73.6" y="610.9" font-size="9.10" text-anchor="end" fill="#484848" stroke="#484848" stroke-width="0.18">0.9</text>
<line x1="77" y1="607.9" x2="82.3" y2="607.9" stroke="#8a8a8a" stroke-width="1"/>
<text x="73.6" y="625.8" font-size="9.10" text-anchor="end" fill="#484848" stroke="#484848" stroke-width="0.18">0.8</text>
<line x1="77" y1="622.8" x2="82.3" y2="622.8" stroke="#8a8a8a" stroke-width="1"/>
<text x="73.6" y="640.7" font-size="9.10" text-anchor="end" fill="#484848" stroke="#484848" stroke-width="0.18">0.7</text>
<line x1="77" y1="637.7" x2="82.3" y2="637.7" stroke="#8a8a8a" stroke-width="1"/>
<text x="73.6" y="655.6" font-size="9.10" text-anchor="end" fill="#484848" stroke="#484848" stroke-width="0.18">0.6</text>
<line x1="77" y1="652.6" x2="82.3" y2="652.6" stroke="#8a8a8a" stroke-width="1"/>
<text x="73.6" y="670.5" font-size="9.10" text-anchor="end" fill="#484848" stroke="#484848" stroke-width="0.18">0.5</text>
<line x1="77" y1="667.5" x2="82.3" y2="667.5" stroke="#8a8a8a" stroke-width="1"/>
<text x="73.6" y="685.4" font-size="9.10" text-anchor="end" fill="#484848" stroke="#484848" stroke-width="0.18">0.4</text>
<line x1="77" y1="682.4" x2="82.3" y2="682.4" stroke="#8a8a8a" stroke-width="1"/>
<text x="73.6" y="700.3" font-size="9.10" text-anchor="end" fill="#484848" stroke="#484848" stroke-width="0.18">0.3</text>
<line x1="77" y1="697.3" x2="82.3" y2="697.3" stroke="#8a8a8a" stroke-width="1"/>
<text x="73.6" y="715.2" font-size="9.10" text-anchor="end" fill="#484848" stroke="#484848" stroke-width="0.18">0.2</text>
<line x1="77" y1="712.2" x2="82.3" y2="712.2" stroke="#8a8a8a" stroke-width="1"/>
<text x="73.6" y="730.1" font-size="9.10" text-anchor="end" fill="#484848" stroke="#484848" stroke-width="0.18">0.1</text>
<line x1="77" y1="727.1" x2="82.3" y2="727.1" stroke="#8a8a8a" stroke-width="1"/>
<text x="73.6" y="745.0" font-size="9.10" text-anchor="end" fill="#484848" stroke="#484848" stroke-width="0.18">0</text>
<line x1="77" y1="742.0" x2="82.3" y2="742.0" stroke="#8a8a8a" stroke-width="1"/>
<line x1="82.3" y1="593.0" x2="82.3" y2="742.0" stroke="#8a8a8a" stroke-width="1"/>
<line x1="77" y1="742.2" x2="514" y2="742.2" stroke="#a0a0a0" stroke-width="1.3"/>
<line x1="82.3" y1="742.0" x2="82.3" y2="747.0" stroke="#8a8a8a" stroke-width="1"/>
<text x="82.5" y="755.7" font-size="9.60" text-anchor="middle" fill="#484848" stroke="#484848" stroke-width="0.18">0</text>
<line x1="92.1" y1="742.0" x2="92.1" y2="747.0" stroke="#8a8a8a" stroke-width="1"/>
<text x="92.3" y="755.7" font-size="9.60" text-anchor="middle" fill="#484848" stroke="#484848" stroke-width="0.18">1</text>
<line x1="111.7" y1="742.0" x2="111.7" y2="747.0" stroke="#8a8a8a" stroke-width="1"/>
<text x="111.9" y="755.7" font-size="9.60" text-anchor="middle" fill="#484848" stroke="#484848" stroke-width="0.18">3</text>
<line x1="141.1" y1="742.0" x2="141.1" y2="747.0" stroke="#8a8a8a" stroke-width="1"/>
<text x="141.3" y="755.7" font-size="9.60" text-anchor="middle" fill="#484848" stroke="#484848" stroke-width="0.18">6</text>
<line x1="199.9" y1="742.0" x2="199.9" y2="747.0" stroke="#8a8a8a" stroke-width="1"/>
<text x="200.1" y="755.7" font-size="9.60" text-anchor="middle" fill="#484848" stroke="#484848" stroke-width="0.18">12</text>
<line x1="258.7" y1="742.0" x2="258.7" y2="747.0" stroke="#8a8a8a" stroke-width="1"/>
<text x="258.9" y="755.7" font-size="9.60" text-anchor="middle" fill="#484848" stroke="#484848" stroke-width="0.18">18</text>
<line x1="317.5" y1="742.0" x2="317.5" y2="747.0" stroke="#8a8a8a" stroke-width="1"/>
<text x="317.7" y="755.7" font-size="9.60" text-anchor="middle" fill="#484848" stroke="#484848" stroke-width="0.18">24</text>
<line x1="376.3" y1="742.0" x2="376.3" y2="747.0" stroke="#8a8a8a" stroke-width="1"/>
<text x="376.5" y="755.7" font-size="9.60" text-anchor="middle" fill="#484848" stroke="#484848" stroke-width="0.18">30</text>
<line x1="435.1" y1="742.0" x2="435.1" y2="747.0" stroke="#8a8a8a" stroke-width="1"/>
<text x="435.3" y="755.7" font-size="9.60" text-anchor="middle" fill="#484848" stroke="#484848" stroke-width="0.18">36</text>
<line x1="513.5" y1="742.0" x2="513.5" y2="747.0" stroke="#8a8a8a" stroke-width="1"/>
<text x="513.7" y="755.7" font-size="9.60" text-anchor="middle" fill="#484848" stroke="#484848" stroke-width="0.18">44</text>
<text x="263.0" y="768.4" font-size="11.00" fill="#484848" stroke="#484848" stroke-width="0.18" textLength="70.3" lengthAdjust="spacingAndGlyphs">Time (months)</text>
<text x="493.0" y="593.3" font-size="8.60" text-anchor="middle" fill="#484848" stroke="#484848" stroke-width="0.18" textLength="40.5" lengthAdjust="spacingAndGlyphs">KM median</text>
<text x="493.0" y="601.6" font-size="8.60" text-anchor="middle" fill="#484848" stroke="#484848" stroke-width="0.18" textLength="33.0" lengthAdjust="spacingAndGlyphs">(months)</text>
<line x1="417.1" y1="612.8" x2="431.9" y2="612.8" stroke="#75a13f" stroke-width="2.2"/>
<circle cx="424.5" cy="612.8" r="2.3" fill="#5a842c"/>
<text x="434.6" y="615.3" font-size="8.60" fill="#484848" stroke="#484848" stroke-width="0.18" textLength="35.0" lengthAdjust="spacingAndGlyphs">Tafa+LEN</text>
<text x="493.0" y="615.3" font-size="8.60" text-anchor="middle" fill="#484848" stroke="#484848" stroke-width="0.18">26.1</text>
<line x1="417.1" y1="623.7" x2="431.9" y2="623.7" stroke="#523892" stroke-width="2.2"/>
<circle cx="424.5" cy="623.7" r="2.3" fill="#3c2a6a"/>
<text x="434.6" y="626.2" font-size="8.60" fill="#484848" stroke="#484848" stroke-width="0.18" textLength="34.8" lengthAdjust="spacingAndGlyphs">R-GemOx</text>
<text x="493.0" y="626.2" font-size="8.60" text-anchor="middle" fill="#484848" stroke="#484848" stroke-width="0.18">9.5</text>
<path d="M82.3 593.0 H101.0 V597.0 H104.5 V603.0 H108.5 V608.5 H112.0 V614.0 H115.5 V620.0 H118.0 V626.3 H124.5 V629.6 H137.0 V632.7 H146.3 V635.7 H182.2 V638.9 H202.3 V642.6 H217.3 V646.0 H219.0 V649.5 H252.0 V652.3 H255.4 V657.3 H282.3 V662.0 H285.0 V666.2 H338.0 V671.5 H423.2 V706.5" fill="none" stroke="#75a13f" stroke-width="1.5" stroke-linejoin="miter"/>
<circle cx="82.3" cy="593.0" r="2.1" fill="#5e8c2e"/>
<circle cx="122.7" cy="626.3" r="2.1" fill="#5e8c2e"/>
<circle cx="165.4" cy="635.7" r="2.1" fill="#5e8c2e"/>
<circle cx="195.4" cy="638.9" r="2.1" fill="#5e8c2e"/>
<circle cx="218.5" cy="646.0" r="2.1" fill="#5e8c2e"/>
<circle cx="222.6" cy="649.5" r="2.1" fill="#5e8c2e"/>
<circle cx="265.0" cy="657.3" r="2.1" fill="#5e8c2e"/>
<circle cx="280.4" cy="657.3" r="2.1" fill="#5e8c2e"/>
<circle cx="282.3" cy="659.0" r="2.1" fill="#5e8c2e"/>
<circle cx="283.5" cy="662.5" r="2.1" fill="#5e8c2e"/>
<circle cx="322.0" cy="666.2" r="2.1" fill="#5e8c2e"/>
<circle cx="330.4" cy="666.2" r="2.1" fill="#5e8c2e"/>
<circle cx="353.5" cy="671.5" r="2.1" fill="#5e8c2e"/>
<circle cx="363.0" cy="671.5" r="2.1" fill="#5e8c2e"/>
<circle cx="393.8" cy="671.5" r="2.1" fill="#5e8c2e"/>
<circle cx="396.5" cy="671.5" r="2.1" fill="#5e8c2e"/>
<circle cx="399.0" cy="671.5" r="2.1" fill="#5e8c2e"/>
<circle cx="404.6" cy="671.5" r="2.1" fill="#5e8c2e"/>
<circle cx="415.0" cy="671.5" r="2.1" fill="#5e8c2e"/>
<circle cx="420.8" cy="671.5" r="2.1" fill="#5e8c2e"/>
<circle cx="424.5" cy="706.5" r="2.1" fill="#5e8c2e"/>
<path d="M82.3 593.0 H102.1 V598.8 H104.6 V604.2 H108.5 V610.0 H111.3 V617.7 H116.5 V623.5 H130.4 V630.2 H136.7 V636.9 H140.6 V643.1 H155.0 V656.5 H164.2 V662.7 H175.8 V669.2 H188.5 V675.4 H191.2 V682.3 H195.0 V689.2 H211.5 V695.7 H243.0 V702.3 H270.0 V709.2 H310.4 V715.8 H347.0 V721.9 H352.3 V728.5 H375.4 V735.0 H399.6 V738.5" fill="none" stroke="#523892" stroke-width="1.5" stroke-linejoin="miter"/>
<circle cx="103.5" cy="598.8" r="2.1" fill="#523892"/>
<circle cx="106.0" cy="604.2" r="2.1" fill="#523892"/>
<circle cx="124.8" cy="623.5" r="2.1" fill="#523892"/>
<text x="1.8" y="777.0" font-size="7.80" fill="#7aa64c" textLength="64.8" lengthAdjust="spacing" stroke="#7aa64c" stroke-width="0.4">Tafa+LEN (<tspan font-style="italic">n</tspan> = 74)</text>
<text x="1.8" y="784.9" font-size="8.00" fill="#3c3c3c" stroke="#3c3c3c" stroke-width="0.18" textLength="22.6" lengthAdjust="spacingAndGlyphs">At risk</text>
<text x="82.6" y="784.9" font-size="7.90" text-anchor="middle" fill="#3c3c3c" stroke="#3c3c3c" stroke-width="0.18">51</text>
<text x="92.4" y="784.9" font-size="7.90" text-anchor="middle" fill="#3c3c3c" stroke="#3c3c3c" stroke-width="0.18">50</text>
<text x="112.0" y="784.9" font-size="7.90" text-anchor="middle" fill="#3c3c3c" stroke="#3c3c3c" stroke-width="0.18">44</text>
<text x="141.4" y="784.9" font-size="7.90" text-anchor="middle" fill="#3c3c3c" stroke="#3c3c3c" stroke-width="0.18">35</text>
<text x="200.2" y="784.9" font-size="7.90" text-anchor="middle" fill="#3c3c3c" stroke="#3c3c3c" stroke-width="0.18">30</text>
<text x="259.0" y="784.9" font-size="7.90" text-anchor="middle" fill="#3c3c3c" stroke="#3c3c3c" stroke-width="0.18">23</text>
<text x="317.8" y="784.9" font-size="7.90" text-anchor="middle" fill="#3c3c3c" stroke="#3c3c3c" stroke-width="0.18">15</text>
<text x="376.6" y="784.9" font-size="7.90" text-anchor="middle" fill="#3c3c3c" stroke="#3c3c3c" stroke-width="0.18">10</text>
<text x="435.4" y="784.9" font-size="7.90" text-anchor="middle" fill="#3c3c3c" stroke="#3c3c3c" stroke-width="0.18">0</text>
<text x="513.8" y="784.9" font-size="7.90" text-anchor="middle" fill="#3c3c3c" stroke="#3c3c3c" stroke-width="0.18">0</text>
<text x="1.8" y="793.1" font-size="8.00" fill="#3c3c3c" stroke="#3c3c3c" stroke-width="0.18" textLength="28.6" lengthAdjust="spacingAndGlyphs">Event(s)</text>
<text x="82.6" y="793.1" font-size="7.90" text-anchor="middle" fill="#3c3c3c" stroke="#3c3c3c" stroke-width="0.18">0</text>
<text x="92.4" y="793.1" font-size="7.90" text-anchor="middle" fill="#3c3c3c" stroke="#3c3c3c" stroke-width="0.18">0</text>
<text x="112.0" y="793.1" font-size="7.90" text-anchor="middle" fill="#3c3c3c" stroke="#3c3c3c" stroke-width="0.18">5</text>
<text x="141.4" y="793.1" font-size="7.90" text-anchor="middle" fill="#3c3c3c" stroke="#3c3c3c" stroke-width="0.18">13</text>
<text x="200.2" y="793.1" font-size="7.90" text-anchor="middle" fill="#3c3c3c" stroke="#3c3c3c" stroke-width="0.18">15</text>
<text x="259.0" y="793.1" font-size="7.90" text-anchor="middle" fill="#3c3c3c" stroke="#3c3c3c" stroke-width="0.18">20</text>
<text x="317.8" y="793.1" font-size="7.90" text-anchor="middle" fill="#3c3c3c" stroke="#3c3c3c" stroke-width="0.18">22</text>
<text x="376.6" y="793.1" font-size="7.90" text-anchor="middle" fill="#3c3c3c" stroke="#3c3c3c" stroke-width="0.18">23</text>
<text x="435.4" y="793.1" font-size="7.90" text-anchor="middle" fill="#3c3c3c" stroke="#3c3c3c" stroke-width="0.18">24</text>
<text x="513.8" y="793.1" font-size="7.90" text-anchor="middle" fill="#3c3c3c" stroke="#3c3c3c" stroke-width="0.18">24</text>
<text x="1.8" y="801.3" font-size="8.00" fill="#3c3c3c" stroke="#3c3c3c" stroke-width="0.18" textLength="32.2" lengthAdjust="spacingAndGlyphs">Censored</text>
<text x="82.6" y="801.3" font-size="7.90" text-anchor="middle" fill="#3c3c3c" stroke="#3c3c3c" stroke-width="0.18">0</text>
<text x="92.4" y="801.3" font-size="7.90" text-anchor="middle" fill="#3c3c3c" stroke="#3c3c3c" stroke-width="0.18">1</text>
<text x="112.0" y="801.3" font-size="7.90" text-anchor="middle" fill="#3c3c3c" stroke="#3c3c3c" stroke-width="0.18">2</text>
<text x="141.4" y="801.3" font-size="7.90" text-anchor="middle" fill="#3c3c3c" stroke="#3c3c3c" stroke-width="0.18">3</text>
<text x="200.2" y="801.3" font-size="7.90" text-anchor="middle" fill="#3c3c3c" stroke="#3c3c3c" stroke-width="0.18">6</text>
<text x="259.0" y="801.3" font-size="7.90" text-anchor="middle" fill="#3c3c3c" stroke="#3c3c3c" stroke-width="0.18">8</text>
<text x="317.8" y="801.3" font-size="7.90" text-anchor="middle" fill="#3c3c3c" stroke="#3c3c3c" stroke-width="0.18">14</text>
<text x="376.6" y="801.3" font-size="7.90" text-anchor="middle" fill="#3c3c3c" stroke="#3c3c3c" stroke-width="0.18">18</text>
<text x="435.4" y="801.3" font-size="7.90" text-anchor="middle" fill="#3c3c3c" stroke="#3c3c3c" stroke-width="0.18">27</text>
<text x="513.8" y="801.3" font-size="7.90" text-anchor="middle" fill="#3c3c3c" stroke="#3c3c3c" stroke-width="0.18">27</text>
<text x="1.8" y="813.9" font-size="7.80" fill="#5a3f98" textLength="64.8" lengthAdjust="spacing" stroke="#5a3f98" stroke-width="0.4">R-GemOx (<tspan font-style="italic">n</tspan> = 74)</text>
<text x="1.8" y="824.8" font-size="8.00" fill="#3c3c3c" stroke="#3c3c3c" stroke-width="0.18" textLength="22.6" lengthAdjust="spacingAndGlyphs">At risk</text>
<text x="82.6" y="824.8" font-size="7.90" text-anchor="middle" fill="#3c3c3c" stroke="#3c3c3c" stroke-width="0.18">34</text>
<text x="92.4" y="824.8" font-size="7.90" text-anchor="middle" fill="#3c3c3c" stroke="#3c3c3c" stroke-width="0.18">26</text>
<text x="112.0" y="824.8" font-size="7.90" text-anchor="middle" fill="#3c3c3c" stroke="#3c3c3c" stroke-width="0.18">20</text>
<text x="141.4" y="824.8" font-size="7.90" text-anchor="middle" fill="#3c3c3c" stroke="#3c3c3c" stroke-width="0.18">15</text>
<text x="200.2" y="824.8" font-size="7.90" text-anchor="middle" fill="#3c3c3c" stroke="#3c3c3c" stroke-width="0.18">8</text>
<text x="259.0" y="824.8" font-size="7.90" text-anchor="middle" fill="#3c3c3c" stroke="#3c3c3c" stroke-width="0.18">6</text>
<text x="317.8" y="824.8" font-size="7.90" text-anchor="middle" fill="#3c3c3c" stroke="#3c3c3c" stroke-width="0.18">4</text>
<text x="376.6" y="824.8" font-size="7.90" text-anchor="middle" fill="#3c3c3c" stroke="#3c3c3c" stroke-width="0.18">1</text>
<text x="435.4" y="824.8" font-size="7.90" text-anchor="middle" fill="#3c3c3c" stroke="#3c3c3c" stroke-width="0.18">0</text>
<text x="513.8" y="824.8" font-size="7.90" text-anchor="middle" fill="#3c3c3c" stroke="#3c3c3c" stroke-width="0.18">0</text>
<text x="1.8" y="832.9" font-size="8.00" fill="#3c3c3c" stroke="#3c3c3c" stroke-width="0.18" textLength="28.6" lengthAdjust="spacingAndGlyphs">Event(s)</text>
<text x="82.6" y="832.9" font-size="7.90" text-anchor="middle" fill="#3c3c3c" stroke="#3c3c3c" stroke-width="0.18">0</text>
<text x="92.4" y="832.9" font-size="7.90" text-anchor="middle" fill="#3c3c3c" stroke="#3c3c3c" stroke-width="0.18">0</text>
<text x="112.0" y="832.9" font-size="7.90" text-anchor="middle" fill="#3c3c3c" stroke="#3c3c3c" stroke-width="0.18">4</text>
<text x="141.4" y="832.9" font-size="7.90" text-anchor="middle" fill="#3c3c3c" stroke="#3c3c3c" stroke-width="0.18">8</text>
<text x="200.2" y="832.9" font-size="7.90" text-anchor="middle" fill="#3c3c3c" stroke="#3c3c3c" stroke-width="0.18">15</text>
<text x="259.0" y="832.9" font-size="7.90" text-anchor="middle" fill="#3c3c3c" stroke="#3c3c3c" stroke-width="0.18">17</text>
<text x="317.8" y="832.9" font-size="7.90" text-anchor="middle" fill="#3c3c3c" stroke="#3c3c3c" stroke-width="0.18">19</text>
<text x="376.6" y="832.9" font-size="7.90" text-anchor="middle" fill="#3c3c3c" stroke="#3c3c3c" stroke-width="0.18">22</text>
<text x="435.4" y="832.9" font-size="7.90" text-anchor="middle" fill="#3c3c3c" stroke="#3c3c3c" stroke-width="0.18">23</text>
<text x="513.8" y="832.9" font-size="7.90" text-anchor="middle" fill="#3c3c3c" stroke="#3c3c3c" stroke-width="0.18">23</text>
<text x="1.8" y="841.0" font-size="8.00" fill="#3c3c3c" stroke="#3c3c3c" stroke-width="0.18" textLength="32.2" lengthAdjust="spacingAndGlyphs">Censored</text>
<text x="82.6" y="841.0" font-size="7.90" text-anchor="middle" fill="#3c3c3c" stroke="#3c3c3c" stroke-width="0.18">0</text>
<text x="92.4" y="841.0" font-size="7.90" text-anchor="middle" fill="#3c3c3c" stroke="#3c3c3c" stroke-width="0.18">8</text>
<text x="112.0" y="841.0" font-size="7.90" text-anchor="middle" fill="#3c3c3c" stroke="#3c3c3c" stroke-width="0.18">10</text>
<text x="141.4" y="841.0" font-size="7.90" text-anchor="middle" fill="#3c3c3c" stroke="#3c3c3c" stroke-width="0.18">11</text>
<text x="200.2" y="841.0" font-size="7.90" text-anchor="middle" fill="#3c3c3c" stroke="#3c3c3c" stroke-width="0.18">11</text>
<text x="259.0" y="841.0" font-size="7.90" text-anchor="middle" fill="#3c3c3c" stroke="#3c3c3c" stroke-width="0.18">11</text>
<text x="317.8" y="841.0" font-size="7.90" text-anchor="middle" fill="#3c3c3c" stroke="#3c3c3c" stroke-width="0.18">11</text>
<text x="376.6" y="841.0" font-size="7.90" text-anchor="middle" fill="#3c3c3c" stroke="#3c3c3c" stroke-width="0.18">11</text>
<text x="435.4" y="841.0" font-size="7.90" text-anchor="middle" fill="#3c3c3c" stroke="#3c3c3c" stroke-width="0.18">11</text>
<text x="513.8" y="841.0" font-size="7.90" text-anchor="middle" fill="#3c3c3c" stroke="#3c3c3c" stroke-width="0.18">11</text>
</g>
</svg>
</body></html>
